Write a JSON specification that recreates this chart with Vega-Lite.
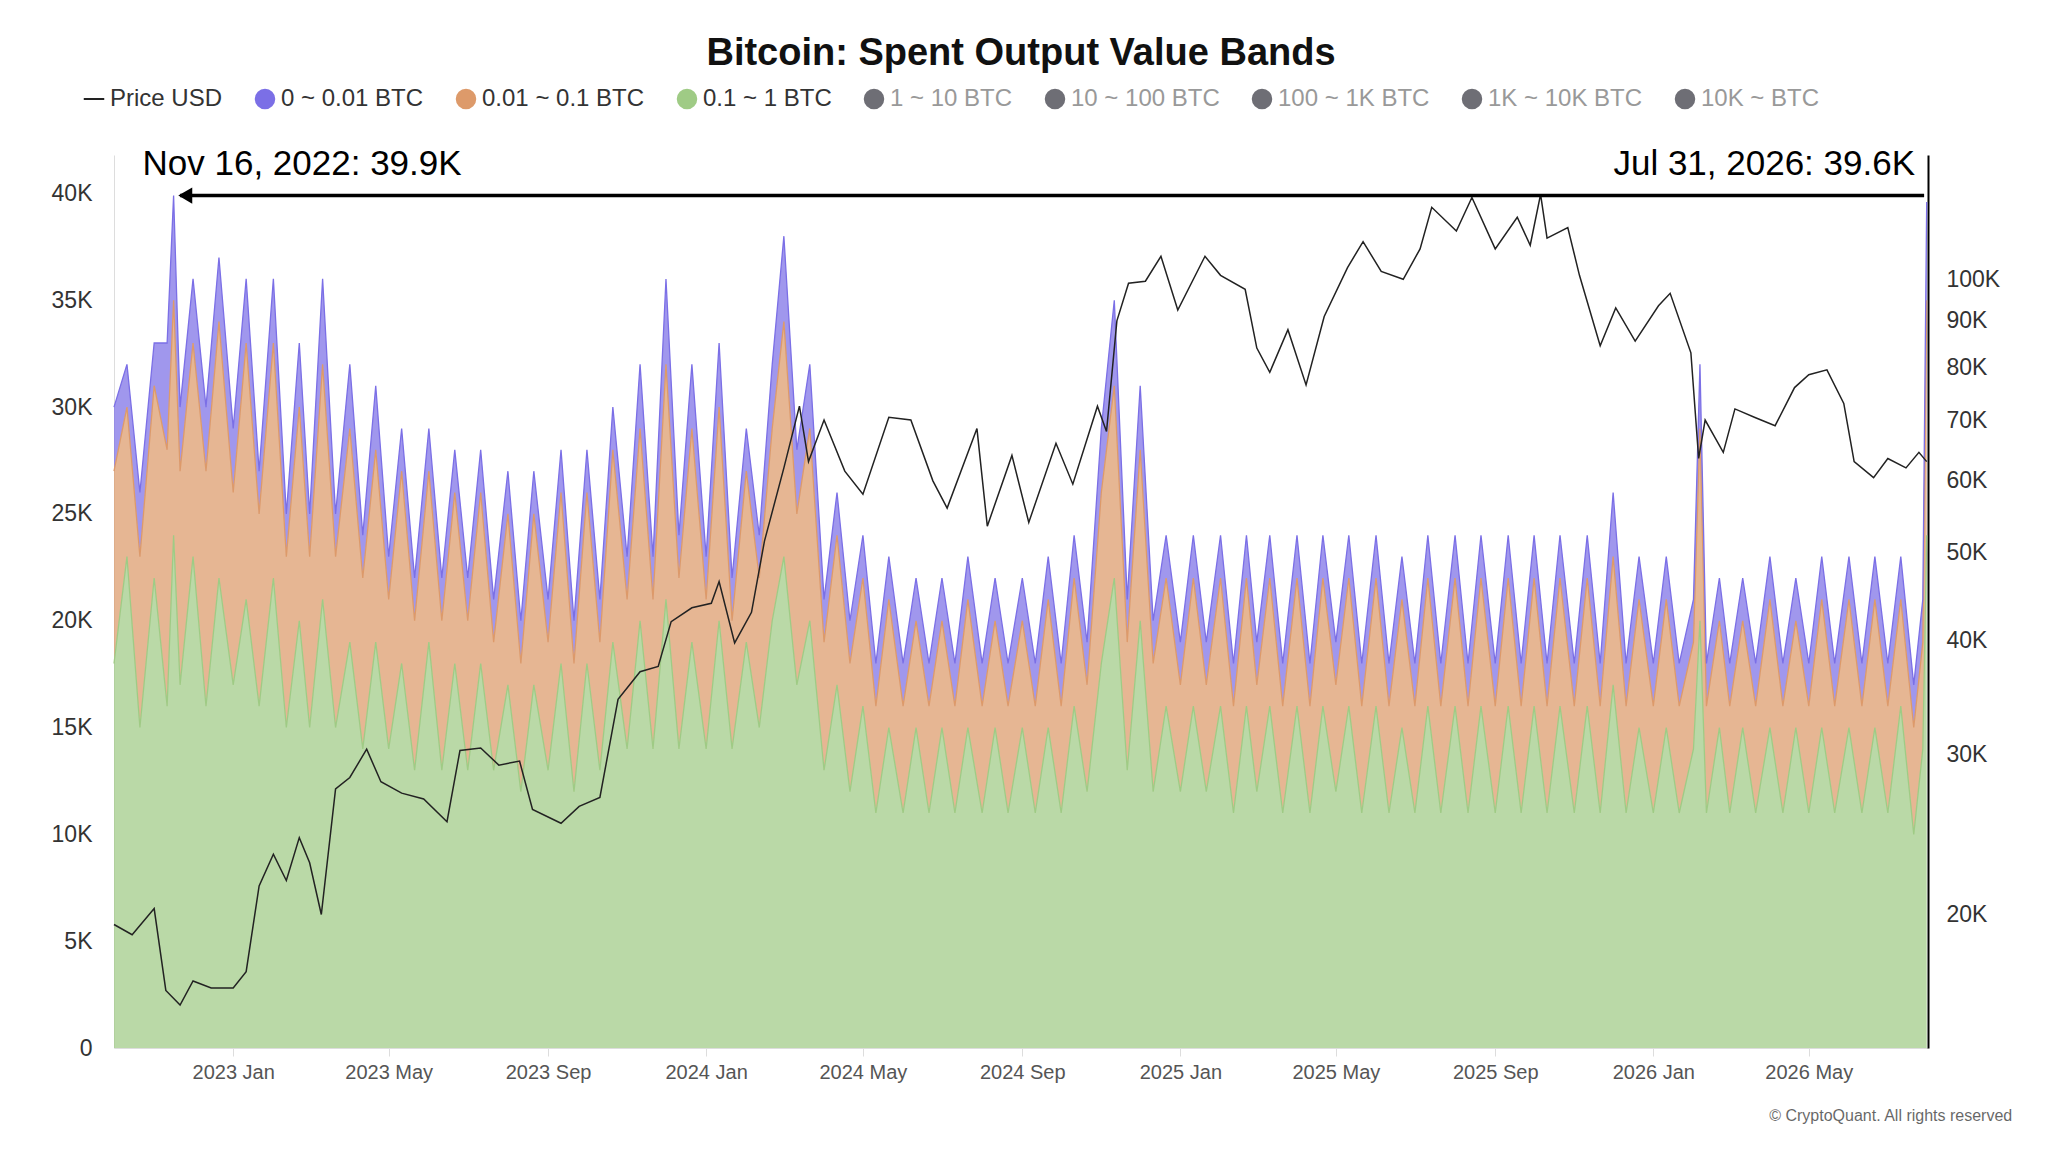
{
  "$schema": "https://vega.github.io/schema/vega-lite/v6.json",
  "autosize": "none",
  "width": 1814,
  "height": 893,
  "padding": {"left": 114, "top": 155, "right": 126, "bottom": 104},
  "background": "white",
  "title": {"text": "Bitcoin: Spent Output Value Bands", "font": "Liberation Sans", "fontSize": 38, "fontWeight": "bold", "color": "#111", "anchor": "middle", "offset": 14},
  "config": {"view": {"stroke": null}, "font": "Liberation Sans"},
  "layer": [
    {
      "data": {"values": [
        {"d":"2022-10-01","g":18,"o":9,"p":3},{"d":"2022-10-11","g":23,"o":7,"p":2},{"d":"2022-10-21","g":15,"o":8,"p":3},
        {"d":"2022-11-01","g":22,"o":9,"p":2},{"d":"2022-11-11","g":16,"o":12,"p":5},{"d":"2022-11-16","g":24,"o":11,"p":4.9},{"d":"2022-11-21","g":17,"o":10,"p":3},
        {"d":"2022-12-01","g":23,"o":10,"p":3},{"d":"2022-12-11","g":16,"o":11,"p":3},{"d":"2022-12-21","g":22,"o":12,"p":3},
        {"d":"2023-01-01","g":17,"o":9,"p":3},{"d":"2023-01-11","g":21,"o":12,"p":3},{"d":"2023-01-21","g":16,"o":9,"p":2},
        {"d":"2023-02-01","g":22,"o":11,"p":3},{"d":"2023-02-11","g":15,"o":8,"p":2},{"d":"2023-02-21","g":20,"o":10,"p":3},
        {"d":"2023-03-01","g":15,"o":8,"p":2},{"d":"2023-03-11","g":21,"o":11,"p":4},{"d":"2023-03-21","g":15,"o":8,"p":2},
        {"d":"2023-04-01","g":19,"o":10,"p":3},{"d":"2023-04-11","g":14,"o":8,"p":2},{"d":"2023-04-21","g":19,"o":9,"p":3},
        {"d":"2023-05-01","g":14,"o":7,"p":2},{"d":"2023-05-11","g":18,"o":9,"p":2},{"d":"2023-05-21","g":13,"o":7,"p":2},
        {"d":"2023-06-01","g":19,"o":8,"p":2},{"d":"2023-06-11","g":13,"o":7,"p":2},{"d":"2023-06-21","g":18,"o":8,"p":2},
        {"d":"2023-07-01","g":13,"o":7,"p":2},{"d":"2023-07-11","g":18,"o":8,"p":2},{"d":"2023-07-21","g":13,"o":6,"p":2},
        {"d":"2023-08-01","g":17,"o":8,"p":2},{"d":"2023-08-11","g":12,"o":6,"p":2},{"d":"2023-08-21","g":17,"o":8,"p":2},
        {"d":"2023-09-01","g":13,"o":6,"p":2},{"d":"2023-09-11","g":18,"o":8,"p":2},{"d":"2023-09-21","g":12,"o":6,"p":2},
        {"d":"2023-10-01","g":18,"o":8,"p":2},{"d":"2023-10-11","g":13,"o":6,"p":2},{"d":"2023-10-21","g":19,"o":9,"p":2},
        {"d":"2023-11-01","g":14,"o":7,"p":2},{"d":"2023-11-11","g":20,"o":9,"p":3},{"d":"2023-11-21","g":14,"o":7,"p":2},
        {"d":"2023-12-01","g":21,"o":11,"p":4},{"d":"2023-12-11","g":14,"o":8,"p":2},{"d":"2023-12-21","g":19,"o":10,"p":3},
        {"d":"2024-01-01","g":14,"o":7,"p":2},{"d":"2024-01-11","g":20,"o":10,"p":3},{"d":"2024-01-21","g":14,"o":6,"p":2},
        {"d":"2024-02-01","g":19,"o":8,"p":2},{"d":"2024-02-11","g":15,"o":7,"p":2},{"d":"2024-02-21","g":20,"o":9,"p":3},
        {"d":"2024-03-01","g":23,"o":11,"p":4},{"d":"2024-03-11","g":17,"o":8,"p":3},{"d":"2024-03-21","g":20,"o":9,"p":3},
        {"d":"2024-04-01","g":13,"o":6,"p":2},{"d":"2024-04-11","g":17,"o":7,"p":2},{"d":"2024-04-21","g":12,"o":6,"p":2},
        {"d":"2024-05-01","g":16,"o":6,"p":2},{"d":"2024-05-11","g":11,"o":5,"p":2},{"d":"2024-05-21","g":15,"o":6,"p":2},
        {"d":"2024-06-01","g":11,"o":5,"p":2},{"d":"2024-06-11","g":15,"o":5,"p":2},{"d":"2024-06-21","g":11,"o":5,"p":2},
        {"d":"2024-07-01","g":15,"o":5,"p":2},{"d":"2024-07-11","g":11,"o":5,"p":2},{"d":"2024-07-21","g":15,"o":6,"p":2},
        {"d":"2024-08-01","g":11,"o":5,"p":2},{"d":"2024-08-11","g":15,"o":5,"p":2},{"d":"2024-08-21","g":11,"o":5,"p":2},
        {"d":"2024-09-01","g":15,"o":5,"p":2},{"d":"2024-09-11","g":11,"o":5,"p":2},{"d":"2024-09-21","g":15,"o":6,"p":2},
        {"d":"2024-10-01","g":11,"o":5,"p":2},{"d":"2024-10-11","g":16,"o":6,"p":2},{"d":"2024-10-21","g":12,"o":5,"p":2},
        {"d":"2024-11-01","g":18,"o":8,"p":3},{"d":"2024-11-11","g":22,"o":9,"p":4},{"d":"2024-11-21","g":13,"o":6,"p":2},
        {"d":"2024-12-01","g":20,"o":8,"p":3},{"d":"2024-12-11","g":12,"o":6,"p":2},{"d":"2024-12-21","g":16,"o":6,"p":2},
        {"d":"2025-01-01","g":12,"o":5,"p":2},{"d":"2025-01-11","g":16,"o":6,"p":2},{"d":"2025-01-21","g":12,"o":5,"p":2},
        {"d":"2025-02-01","g":16,"o":6,"p":2},{"d":"2025-02-11","g":11,"o":5,"p":2},{"d":"2025-02-21","g":16,"o":6,"p":2},
        {"d":"2025-03-01","g":12,"o":5,"p":2},{"d":"2025-03-11","g":16,"o":6,"p":2},{"d":"2025-03-21","g":11,"o":5,"p":2},
        {"d":"2025-04-01","g":16,"o":6,"p":2},{"d":"2025-04-11","g":11,"o":5,"p":2},{"d":"2025-04-21","g":16,"o":6,"p":2},
        {"d":"2025-05-01","g":12,"o":5,"p":2},{"d":"2025-05-11","g":16,"o":6,"p":2},{"d":"2025-05-21","g":11,"o":5,"p":2},
        {"d":"2025-06-01","g":16,"o":6,"p":2},{"d":"2025-06-11","g":11,"o":5,"p":2},{"d":"2025-06-21","g":15,"o":6,"p":2},
        {"d":"2025-07-01","g":11,"o":5,"p":2},{"d":"2025-07-11","g":16,"o":6,"p":2},{"d":"2025-07-21","g":11,"o":5,"p":2},
        {"d":"2025-08-01","g":16,"o":6,"p":2},{"d":"2025-08-11","g":11,"o":5,"p":2},{"d":"2025-08-21","g":16,"o":6,"p":2},
        {"d":"2025-09-01","g":11,"o":5,"p":2},{"d":"2025-09-11","g":16,"o":6,"p":2},{"d":"2025-09-21","g":11,"o":5,"p":2},
        {"d":"2025-10-01","g":16,"o":6,"p":2},{"d":"2025-10-11","g":11,"o":5,"p":2},{"d":"2025-10-21","g":16,"o":6,"p":2},
        {"d":"2025-11-01","g":11,"o":5,"p":2},{"d":"2025-11-11","g":16,"o":6,"p":2},{"d":"2025-11-21","g":11,"o":5,"p":2},
        {"d":"2025-12-01","g":17,"o":6,"p":3},{"d":"2025-12-11","g":11,"o":5,"p":2},{"d":"2025-12-21","g":15,"o":6,"p":2},
        {"d":"2026-01-01","g":11,"o":5,"p":2},{"d":"2026-01-11","g":15,"o":6,"p":2},{"d":"2026-01-21","g":11,"o":5,"p":2},
        {"d":"2026-02-01","g":14,"o":5,"p":2},{"d":"2026-02-06","g":20,"o":9,"p":3},{"d":"2026-02-11","g":11,"o":5,"p":2},{"d":"2026-02-21","g":15,"o":5,"p":2},
        {"d":"2026-03-01","g":11,"o":5,"p":2},{"d":"2026-03-11","g":15,"o":5,"p":2},{"d":"2026-03-21","g":11,"o":5,"p":2},
        {"d":"2026-04-01","g":15,"o":6,"p":2},{"d":"2026-04-11","g":11,"o":5,"p":2},{"d":"2026-04-21","g":15,"o":5,"p":2},
        {"d":"2026-05-01","g":11,"o":5,"p":2},{"d":"2026-05-11","g":15,"o":6,"p":2},{"d":"2026-05-21","g":11,"o":5,"p":2},
        {"d":"2026-06-01","g":15,"o":6,"p":2},{"d":"2026-06-11","g":11,"o":5,"p":2},{"d":"2026-06-21","g":15,"o":6,"p":2},
        {"d":"2026-07-01","g":11,"o":5,"p":2},{"d":"2026-07-11","g":16,"o":5,"p":2},{"d":"2026-07-21","g":10,"o":5,"p":2},
        {"d":"2026-07-28","g":14,"o":5,"p":2},{"d":"2026-07-31","g":24,"o":11,"p":4.6}
      ]},
      "transform": [{"fold": ["g", "o", "p"], "as": ["band", "v"]}],
      "mark": {"type": "area", "fillOpacity": 0.72, "line": {"strokeWidth": 1.3}},
      "encoding": {
        "x": {"field": "d", "type": "temporal", "scale": {"domain": ["2022-10-01", "2026-08-01"]},
          "axis": {"values": ["2023-01-01", "2023-05-01", "2023-09-01", "2024-01-01", "2024-05-01", "2024-09-01", "2025-01-01", "2025-05-01", "2025-09-01", "2026-01-01", "2026-05-01"],
            "labelExpr": "timeFormat(datum.value, '%Y %b')", "title": null, "grid": false, "labelFontSize": 20, "labelColor": "#555", "domainColor": "#ddd", "tickColor": "#ddd", "tickSize": 8, "labelPadding": 6}},
        "y": {"field": "v", "type": "quantitative", "aggregate": "sum", "stack": "zero", "scale": {"domain": [0, 41.8], "nice": false},
          "axis": {"values": [0, 5, 10, 15, 20, 25, 30, 35, 40], "labelExpr": "datum.value == 0 ? '0' : datum.value + 'K'", "title": null, "grid": false, "labelFontSize": 23, "labelColor": "#333", "domainColor": "#ddd", "ticks": false, "labelPadding": 22}},
        "color": {"field": "band", "type": "nominal",
          "scale": {"domain": ["Price USD", "p", "o", "g", "a1", "a2", "a3", "a4", "a5"], "range": ["#222222", "#7b6fe6", "#dd9a6a", "#9fcb85", "#6e6e75", "#6e6e75", "#6e6e75", "#6e6e75", "#6e6e75"]},
          "legend": {"orient": "none", "legendX": -32, "legendY": -68, "direction": "horizontal", "columns": 9, "title": null,
            "labelFontSize": 24, "labelLimit": 400, "labelColor": "#333", "symbolSize": 420, "symbolType": "circle", "symbolOpacity": 1, "columnPadding": 30, "symbolStrokeWidth": 0,
            "labelExpr": "datum.label == 'p' ? '0 ~ 0.01 BTC' : datum.label == 'o' ? '0.01 ~ 0.1 BTC' : datum.label == 'g' ? '0.1 ~ 1 BTC' : datum.label == 'a1' ? '1 ~ 10 BTC' : datum.label == 'a2' ? '10 ~ 100 BTC' : datum.label == 'a3' ? '100 ~ 1K BTC' : datum.label == 'a4' ? '1K ~ 10K BTC' : datum.label == 'a5' ? '10K ~ BTC' : datum.label",
            "encode": {"symbols": {"update": {"shape": {"signal": "datum.label == 'Price USD' ? 'stroke' : 'circle'"}, "strokeWidth": {"signal": "datum.label == 'Price USD' ? 2 : 0"}, "stroke": {"signal": "datum.label == 'Price USD' ? '#555' : null"}}},
              "labels": {"update": {"fill": {"signal": "indexof(['a1','a2','a3','a4','a5'], datum.label) >= 0 ? '#999' : '#333'"}}}}}},
        "order": {"field": "band", "sort": "ascending"}
      }
    },
    {
      "data": {"values": [
        {"d":"2022-10-01","price":19500},{"d":"2022-10-15","price":19000},{"d":"2022-11-01","price":20300},{"d":"2022-11-10","price":16500},{"d":"2022-11-21","price":15900},
        {"d":"2022-12-01","price":16900},{"d":"2022-12-15","price":16600},{"d":"2023-01-01","price":16600},{"d":"2023-01-11","price":17300},{"d":"2023-01-21","price":21500},
        {"d":"2023-02-01","price":23300},{"d":"2023-02-11","price":21800},{"d":"2023-02-21","price":24300},{"d":"2023-03-01","price":22800},{"d":"2023-03-10","price":20000},
        {"d":"2023-03-21","price":27500},{"d":"2023-04-01","price":28300},{"d":"2023-04-14","price":30400},{"d":"2023-04-25","price":28000},{"d":"2023-05-11","price":27200},
        {"d":"2023-05-28","price":26800},{"d":"2023-06-15","price":25300},{"d":"2023-06-25","price":30300},{"d":"2023-07-11","price":30500},{"d":"2023-07-25","price":29200},
        {"d":"2023-08-10","price":29500},{"d":"2023-08-20","price":26100},{"d":"2023-09-11","price":25200},{"d":"2023-09-25","price":26300},{"d":"2023-10-11","price":26900},
        {"d":"2023-10-25","price":34500},{"d":"2023-11-11","price":37000},{"d":"2023-11-25","price":37500},{"d":"2023-12-05","price":42000},{"d":"2023-12-21","price":43500},
        {"d":"2024-01-05","price":44000},{"d":"2024-01-11","price":46500},{"d":"2024-01-23","price":39800},{"d":"2024-02-05","price":43000},{"d":"2024-02-15","price":51500},
        {"d":"2024-03-01","price":62000},{"d":"2024-03-13","price":72500},{"d":"2024-03-20","price":63000},{"d":"2024-04-01","price":70000},{"d":"2024-04-17","price":61500},
        {"d":"2024-05-01","price":58000},{"d":"2024-05-21","price":70500},{"d":"2024-06-07","price":70000},{"d":"2024-06-24","price":60000},{"d":"2024-07-05","price":56000},
        {"d":"2024-07-28","price":68500},{"d":"2024-08-05","price":53500},{"d":"2024-08-24","price":64000},{"d":"2024-09-06","price":54000},{"d":"2024-09-27","price":66000},
        {"d":"2024-10-10","price":59500},{"d":"2024-10-29","price":72500},{"d":"2024-11-05","price":68000},{"d":"2024-11-13","price":90000},{"d":"2024-11-22","price":99000},
        {"d":"2024-12-05","price":99500},{"d":"2024-12-17","price":106000},{"d":"2024-12-30","price":92500},{"d":"2025-01-20","price":106000},{"d":"2025-02-01","price":101000},
        {"d":"2025-02-20","price":97500},{"d":"2025-03-01","price":84000},{"d":"2025-03-11","price":79000},{"d":"2025-03-25","price":88000},{"d":"2025-04-08","price":76500},
        {"d":"2025-04-22","price":91000},{"d":"2025-05-10","price":103000},{"d":"2025-05-22","price":110000},{"d":"2025-06-05","price":102000},{"d":"2025-06-22","price":100000},
        {"d":"2025-07-05","price":108000},{"d":"2025-07-14","price":120000},{"d":"2025-08-02","price":113000},{"d":"2025-08-14","price":123000},{"d":"2025-09-01","price":108000},
        {"d":"2025-09-18","price":117000},{"d":"2025-09-28","price":109000},{"d":"2025-10-06","price":124000},{"d":"2025-10-11","price":111000},{"d":"2025-10-27","price":114000},
        {"d":"2025-11-05","price":101000},{"d":"2025-11-21","price":84500},{"d":"2025-12-03","price":93000},{"d":"2025-12-18","price":85500},{"d":"2026-01-05","price":93500},
        {"d":"2026-01-14","price":96500},{"d":"2026-01-30","price":83000},{"d":"2026-02-05","price":63500},{"d":"2026-02-10","price":70000},{"d":"2026-02-24","price":64500},
        {"d":"2026-03-05","price":72000},{"d":"2026-03-20","price":70500},{"d":"2026-04-05","price":69000},{"d":"2026-04-20","price":76000},{"d":"2026-05-01","price":78500},
        {"d":"2026-05-15","price":79500},{"d":"2026-05-28","price":73000},{"d":"2026-06-05","price":63000},{"d":"2026-06-20","price":60500},{"d":"2026-07-01","price":63500},
        {"d":"2026-07-15","price":62000},{"d":"2026-07-25","price":64500},{"d":"2026-07-31","price":63000}
      ]},
      "mark": {"type": "line", "strokeWidth": 1.5},
      "encoding": {
        "x": {"field": "d", "type": "temporal"},
        "y": {"field": "price", "type": "quantitative", "scale": {"type": "log", "domain": [14260, 137000], "nice": false},
          "axis": {"orient": "right", "values": [20000, 30000, 40000, 50000, 60000, 70000, 80000, 90000, 100000], "labelExpr": "(datum.value / 1000) + 'K'", "title": null, "grid": false, "labelFontSize": 23, "labelColor": "#333", "domainColor": "#000", "domainWidth": 2, "ticks": false, "labelPadding": 18}},
        "color": {"datum": "Price USD"}
      }
    },
    {
      "data": {"values": [{"a": "2022-11-21", "b": "2026-07-29", "y": 39.9}]},
      "mark": {"type": "rule", "strokeWidth": 3.5, "color": "#000"},
      "encoding": {
        "x": {"field": "a", "type": "temporal"}, "x2": {"field": "b"},
        "y": {"field": "y", "type": "quantitative", "scale": {"domain": [0, 41.8], "nice": false}, "axis": null}
      }
    },
    {
      "data": {"values": [{"a": "2022-11-25", "y": 39.9}]},
      "mark": {"type": "point", "shape": "triangle-left", "filled": true, "size": 260, "color": "#000", "opacity": 1},
      "encoding": {
        "x": {"field": "a", "type": "temporal"},
        "y": {"field": "y", "type": "quantitative", "scale": {"domain": [0, 41.8], "nice": false}, "axis": null}
      }
    },
    {
      "data": {"values": [{"a": "2022-10-23", "y": 41.4, "t": "Nov 16, 2022: 39.9K"}]},
      "mark": {"type": "text", "align": "left", "baseline": "middle", "fontSize": 35, "color": "#000", "font": "Liberation Sans"},
      "encoding": {
        "x": {"field": "a", "type": "temporal"},
        "y": {"field": "y", "type": "quantitative", "scale": {"domain": [0, 41.8], "nice": false}, "axis": null},
        "text": {"field": "t"}
      }
    },
    {
      "data": {"values": [{"a": "2026-07-22", "y": 41.4, "t": "Jul 31, 2026: 39.6K"}, {"a": "2026-10-05", "y": -3.2, "t": "© CryptoQuant. All rights reserved"}]},
      "mark": {"type": "text", "align": "right", "baseline": "middle", "color": "#000", "font": "Liberation Sans"},
      "encoding": {
        "x": {"field": "a", "type": "temporal"},
        "y": {"field": "y", "type": "quantitative", "scale": {"domain": [0, 41.8], "nice": false}, "axis": null},
        "text": {"field": "t"},
        "size": {"condition": {"test": "datum.y < 0", "value": 16}, "value": 35},
        "opacity": {"condition": {"test": "datum.y < 0", "value": 0.6}, "value": 1}
      }
    }
  ],
  "resolve": {"scale": {"y": "independent"}}
}
